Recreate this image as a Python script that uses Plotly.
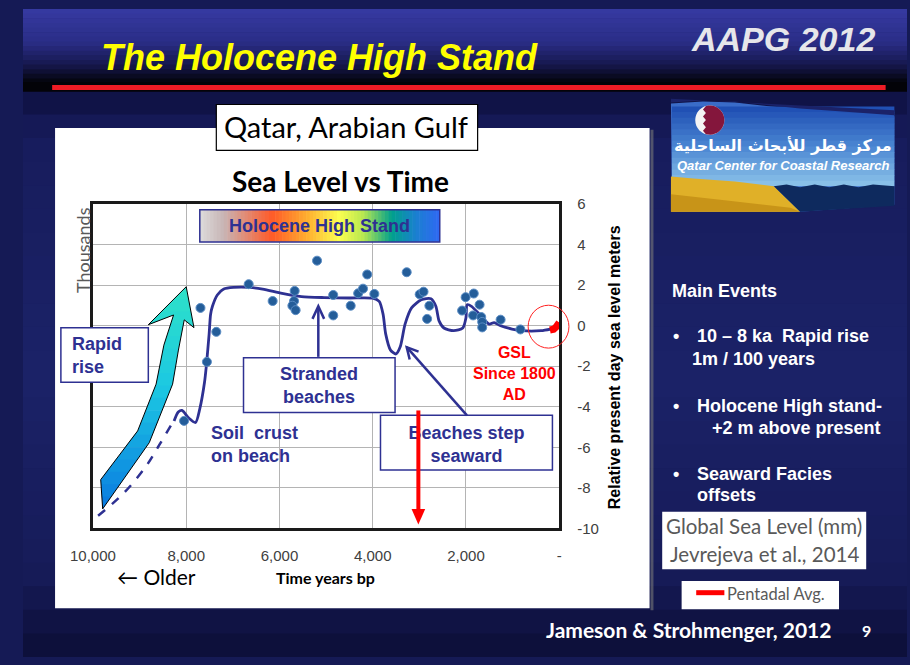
import math
import plotly.graph_objects as go

W, H = 910, 665

# ---------------- data ----------------
obs_age = [8046, 7694, 7556, 7354, 6660, 6146, 5674, 5687, 5723, 5653, 5194, 4847, 4847, 4472, 4312,
           4208, 4118, 3965, 3271, 2993, 2910, 2785, 2833, 2083, 2007, 1833, 1708, 1847, 1673, 1652,
           1652, 1257, 833]
obs_level = [-4.7, 0.87, -1.79, -0.31, 2.04, 1.21, 1.71, 1.21, 0.98, 0.76, 3.2, 1.51, 0.5, 0.98, 1.59,
             1.82, 2.52, 1.56, 2.63, 1.54, 1.67, 0.98, 0.33, 0.74, 1.40, 1.58, 1.03, 0.5, 0.42, 0.18,
             -0.09, 0.29, -0.19]

fit_age = [8260, 8170, 8090, 7950, 7800, 7708, 7608, 7569, 7508, 7477, 7437, 7333, 7194, 6986, 6639,
           6361, 5944, 5528, 5042, 4500, 4000, 3861, 3777, 3722, 3618, 3500, 3410, 3306, 3167, 2958,
           2750, 2646, 2577, 2473, 2265, 2069, 2000, 1973, 1881, 1708, 1500, 1396, 1257, 1014, 806,
           389, 181]
fit_level = [-4.70, -4.26, -4.18, -4.55, -4.78, -4.10, -2.81, -2.01, -0.41, 0.55, 0.95, 1.51, 1.80, 1.88, 1.88,
             1.80, 1.59, 1.43, 1.38, 1.36, 1.35, 1.19, 0.55, -0.41, -1.21, -1.40, -1.05, 0.07, 0.87, 1.27,
             1.32, 0.95, 0.23, -0.12, -0.25, -0.12, 0.39, 1.03, 0.95, 0.55, 0.07, 0.15, -0.01, -0.17, -0.25,
             -0.25, -0.17]

trend_age = [9890, 9340, 8875, 8570, 8300]
trend_level = [-9.38, -8.26, -6.98, -5.86, -4.82]

gsl_age = [200, 120, 60, 0]
gsl_level = [-0.22, -0.18, -0.05, 0.15]

x_tickvals = [10000, 8000, 6000, 4000, 2000, 0]
x_ticktext = ["10,000", "8,000", "6,000", "4,000", "2,000", "-"]
y_tickvals = [6, 4, 2, 0, -2, -4, -6, -8, -10]
y_ticktext = ["6", "4", "2", "0", "-2", "-4", "-6", "-8", "-10"]

# ---------------- helpers (pixel -> paper) ----------------
def X(px):
    return px / W


def Y(py):
    return 1 - py / H


ARIAL = "Liberation Sans, Arial, sans-serif"
CAL = "Lato, Open Sans, sans-serif"
NAVY = "#2e3192"

shapes = []
annots = []


def hexrgb(h):
    h = h.lstrip('#')
    return tuple(int(h[i:i + 2], 16) for i in (0, 2, 4))


def interp(stops, t):
    for i in range(len(stops) - 1):
        t0, c0 = stops[i]
        t1, c1 = stops[i + 1]
        if t <= t1:
            f = 0 if t1 == t0 else (t - t0) / (t1 - t0)
            a, b = hexrgb(c0), hexrgb(c1)
            return "rgb(%d,%d,%d)" % tuple(round(a[k] + f * (b[k] - a[k])) for k in range(3))
    return stops[-1][1]


def rect(x0, y0, x1, y1, fill, line=None, lw=0, layer='above', **kw):
    d = dict(type='rect', xref='paper', yref='paper', x0=X(x0), x1=X(x1), y0=Y(y1), y1=Y(y0),
             fillcolor=fill, layer=layer,
             line=dict(color=line if line else 'rgba(0,0,0,0)', width=lw))
    d.update(kw)
    shapes.append(d)


def vgrad(x0, y0, x1, y1, stops, n, layer='below'):
    h = (y1 - y0) / n
    for i in range(n):
        t = (i + 0.5) / n
        rect(x0, y0 + i * h, x1, min(y1, y0 + (i + 1) * h + 0.6), interp(stops, t), layer=layer)


def hgrad(x0, y0, x1, y1, stops, n, layer='above'):
    w = (x1 - x0) / n
    for i in range(n):
        t = (i + 0.5) / n
        rect(x0 + i * w, y0, min(x1, x0 + (i + 1) * w + 0.6), y1, interp(stops, t), layer=layer)


def pathstr(pts, close=True):
    s = "M " + " L ".join("%.5f,%.5f" % (X(x), Y(y)) for x, y in pts)
    return s + (" Z" if close else "")


def poly(pts, fill, line=None, lw=0, layer='above', close=True):
    shapes.append(dict(type='path', xref='paper', yref='paper', path=pathstr(pts, close),
                       fillcolor=fill if close else None, layer=layer,
                       line=dict(color=line if line else 'rgba(0,0,0,0)', width=lw)))


def seg(x0, y0, x1, y1, color, width, layer='above'):
    shapes.append(dict(type='line', xref='paper', yref='paper', x0=X(x0), y0=Y(y0), x1=X(x1), y1=Y(y1),
                       line=dict(color=color, width=width), layer=layer))


def ann(x, y, text, size, color, family=ARIAL, xanchor='center', yanchor='middle', align='center', angle=0):
    annots.append(dict(x=X(x), y=Y(y), xref='paper', yref='paper', text=text, showarrow=False,
                       font=dict(size=size, color=color, family=family), xanchor=xanchor,
                       yanchor=yanchor, align=align, textangle=angle))


def clip_band(pts, ylo, yhi):
    def clip(p, keep, yc):
        out = []
        for i in range(len(p)):
            cur, prev = p[i], p[i - 1]

            def inter(a, b):
                t = (yc - a[1]) / (b[1] - a[1])
                return (a[0] + t * (b[0] - a[0]), yc)
            if keep(cur):
                if not keep(prev):
                    out.append(inter(prev, cur))
                out.append(cur)
            elif keep(prev):
                out.append(inter(prev, cur))
        return out
    p = clip(pts, lambda q: q[1] >= ylo, ylo)
    if len(p) < 3:
        return []
    p = clip(p, lambda q: q[1] <= yhi, yhi)
    return p if len(p) >= 3 else []


# ---------------- slide background ----------------
vgrad(0, 84, W, H, [(0, '#0d1040'), (0.08, '#171c5c'), (0.5, '#1b2268'), (0.85, '#161b58'), (1, '#0b0e36')], 24)
vgrad(0, 0, W, 76, [(0, '#363aa2'), (0.45, '#2a2d86'), (0.75, '#16184e'), (1, '#030308')], 16)
rect(0, 75, W, 85, '#030308', layer='below')
rect(30, 78, 888, 83, '#ee1c25', layer='below')

# white chart panel
rect(646, 124, 649, 617, 'rgba(120,120,120,0.6)', layer='below')
rect(33, 122, 645, 615, 'white', layer='below')

# ---------------- chart decorations ----------------
rect(199, 98, 468, 145, 'white', line='black', lw=1.2)
ann(333, 121, "Qatar, Arabian Gulf", 29, 'black', family=CAL)
ann(327, 177, "<b>Sea Level vs Time</b>", 28, 'black', family=CAL)
ann(61, 247, "Thousands", 18, '#595959', family=CAL, angle=-90)

# Holocene High Stand gradient box
hgrad(182, 206, 429, 239, [(0, '#dcdcdc'), (0.1, '#c8b4b4'), (0.3, '#ff5a28'), (0.45, '#ffb030'),
                            (0.58, '#fcff50'), (0.68, '#b8e850'), (0.8, '#00a08c'), (0.9, '#1a80d0'),
                            (1, '#3068f4')], 70)
rect(182, 206, 429, 239, 'rgba(0,0,0,0)', line=NAVY, lw=1.5)
ann(305, 223, "<b>Holocene High Stand</b>", 18, NAVY)

# Rapid rise box
rect(39, 327, 129, 383, 'white', line=NAVY, lw=1.5)
ann(48, 356, "<b>Rapid<br>rise</b>", 18, NAVY, xanchor='left', align='left')

# cyan block arrow with vertical gradient
arrow_pts = [(168, 285), (176, 327), (166, 319), (160, 350), (154, 385), (130, 445), (82, 513),
             (80, 483), (118, 433), (137, 385), (145, 345), (155, 314), (129, 324)]
astops = [(0, '#2ee2c8'), (0.45, '#1cc8e2'), (1, '#0a7ae0')]
nb = 18
ytop, ybot = 285, 513
for i in range(nb):
    ylo = ytop + i * (ybot - ytop) / nb
    yhi = ytop + (i + 1) * (ybot - ytop) / nb + 0.7
    band = clip_band(arrow_pts, ylo, yhi)
    if band:
        poly(band, interp(astops, (i + 0.5) / nb))
poly(arrow_pts, 'rgba(0,0,0,0)', line='black', lw=1)

# Stranded beaches box and arrow
rect(227, 358, 383, 414, 'white', line=NAVY, lw=1.5)
ann(305, 386, "<b>Stranded<br>beaches</b>", 18, NAVY)
seg(304, 357, 304, 306, NAVY, 2.5)
poly([(298, 318), (304, 305), (310, 318)], None, line=NAVY, lw=2.5, close=False)

# Beaches step seaward box (label inside shape so the red arrow overlays it)
shapes.append(dict(type='rect', xref='paper', yref='paper', x0=X(368), x1=X(545), y0=Y(473), y1=Y(417),
                   fillcolor='white', line=dict(color=NAVY, width=1.5), layer='above',
                   label=dict(text="<b>Beaches step<br>seaward</b>",
                              font=dict(size=18, color=NAVY, family=ARIAL),
                              textposition='middle center')))
tx, ty, sx, sy = 395, 347, 457, 417
dx, dy = sx - tx, sy - ty
L = math.hypot(dx, dy)
ux, uy = dx / L, dy / L
seg(sx, sy, tx, ty, NAVY, 2.5)
a = math.radians(28)
arm = 13
p1 = (tx + arm * (ux * math.cos(a) - uy * math.sin(a)), ty + arm * (ux * math.sin(a) + uy * math.cos(a)))
p2 = (tx + arm * (ux * math.cos(-a) - uy * math.sin(-a)), ty + arm * (ux * math.sin(-a) + uy * math.cos(-a)))
poly([p1, (tx, ty), p2], None, line=NAVY, lw=2.5, close=False)

# red vertical arrow
seg(407, 412, 407, 515, '#ff0000', 4)
poly([(400, 513), (414, 513), (407, 529)], '#ff0000')

ann(191, 447, "<b>Soil  crust<br>on beach</b>", 18, NAVY, xanchor='left', align='left')

ann(506, 374, "<b>GSL<br>Since 1800<br>AD</b>", 16, '#ff0000')
shapes.append(dict(type='circle', xref='paper', yref='paper', x0=X(520), x1=X(562), y0=Y(348), y1=Y(304),
                   line=dict(color='#ff2020', width=1), fillcolor='rgba(0,0,0,0)', layer='above'))

ann(609, 368, "<b>Relative present day sea level meters</b>", 16, 'black', angle=-90)
ann(311, 583, "<b>Time years bp</b>", 16, 'black', family=CAL)
ann(137, 582, "\u2190 Older", 21, 'black', family=CAL)

# ---------------- title ----------------
ann(305, 50, "<b><i>The Holocene High Stand</i></b>", 36, '#ffff00')
ann(782, 31, "<b><i>AAPG 2012</i></b>", 34, '#e6e6ea')

# ---------------- logo ----------------
poly([(667, 97), (700, 95), (733, 96), (770, 100), (800, 103), (840, 106), (897, 110),
      (897, 201), (800, 208), (668, 208)], '#3a6cc8')
vgrad(668, 100, 897, 182, [(0, '#1d4cb2'), (0.5, '#4a86d2'), (1, '#8ec4ea')], 14, layer='above')
poly([(667, 96), (700, 94), (733, 95), (770, 99), (800, 102), (840, 105), (897, 109), (897, 104),
      (667, 92)], '#1b2268')
poly([(667, 172), (690, 174), (733, 177), (773, 182), (800, 208), (667, 208)], '#e0b028')
poly([(667, 190), (720, 196), (790, 204), (800, 208), (667, 208)], '#c89418')
poly([(773, 182), (786, 180), (800, 183), (815, 180), (830, 183), (845, 180), (860, 183), (875, 180),
      (897, 182), (897, 202), (800, 208)], '#0e2a5e')
cx, cy, r = 707, 114, 15
shapes.append(dict(type='circle', xref='paper', yref='paper', x0=X(cx - r), x1=X(cx + r), y0=Y(cy + r),
                   y1=Y(cy - r), fillcolor='#f4f4f4', line=dict(color='rgba(0,0,0,0)', width=0), layer='above'))
th = math.degrees(math.acos(-4 / r))
arc = []
steps = 24
for k in range(steps + 1):
    ang = math.radians(-th + k * (2 * th) / steps)
    arc.append((cx + r * math.cos(ang), cy + r * math.sin(ang)))
zig = []
yb, yt = arc[-1][1], arc[0][1]
nz = 8
for k in range(nz + 1):
    yy = yb - k * (yb - yt) / nz
    zig.append((cx - 4 - (3 if k % 2 else 0), yy))
poly(arc + zig, '#84163c')
ann(782, 140, "<b>مركز قطر للأبحاث الساحلية</b>", 16, 'white', family="DejaVu Sans")
ann(782, 161, "<b><i>Qatar Center for Coastal Research</i></b>", 13, 'white', family=ARIAL)

# ---------------- right text ----------------
ann(666, 289, "<b>Main Events</b>", 18, 'white', xanchor='left')
for yb_, txt in [(336, "10 \u2013 8 ka  Rapid rise"), (407, "Holocene High stand-"), (477, "Seaward Facies")]:
    ann(667, yb_, "<b>\u2022</b>", 18, 'white', xanchor='left')
    ann(692, yb_, "<b>%s</b>" % txt, 18, 'white', xanchor='left')
ann(687, 359, "<b>1m / 100 years</b>", 18, 'white', xanchor='left')
ann(707, 430, "<b>+2 m above present</b>", 18, 'white', xanchor='left')
ann(692, 499, "<b>offsets</b>", 18, 'white', xanchor='left')

rect(658, 516, 868, 575, 'white')
ann(763, 531, "Global Sea Level (mm)", 20.5, '#595959', family=CAL)
ann(763, 559, "Jevrejeva et al., 2014", 20.5, '#595959', family=CAL)
rect(678, 587, 840, 616, 'white')
seg(693, 599, 722, 599, '#ff0000', 5)
ann(723, 600, "Pentadal Avg.", 16.5, '#595959', family=CAL, xanchor='left')

ann(685, 637, "<b>Jameson &amp; Strohmenger, 2012</b>", 21, 'white', family=CAL)
ann(868, 638, "<b>9</b>", 16, 'white', family=CAL)

# ---------------- figure ----------------
fig = go.Figure()
fig.add_trace(go.Scatter(x=trend_age, y=trend_level, mode='lines',
                         line=dict(color=NAVY, width=2.5, dash='dash', shape='spline'), hoverinfo='skip'))
fig.add_trace(go.Scatter(x=fit_age, y=fit_level, mode='lines',
                         line=dict(color=NAVY, width=2.8, shape='spline', smoothing=0.7)))
fig.add_trace(go.Scatter(x=obs_age, y=obs_level, mode='markers',
                         marker=dict(size=9, color='#245d99', line=dict(color='#5a8cc4', width=1))))
fig.add_trace(go.Scatter(x=gsl_age, y=gsl_level, mode='lines', line=dict(color='#ff0000', width=7)))

axis_common = dict(showgrid=True, gridcolor='#b4b4b4', gridwidth=1, showline=True, linecolor='#1a1a1a',
                   linewidth=3, mirror=True, ticks='', zeroline=False,
                   tickfont=dict(size=15, color='#404040', family=ARIAL))

fig.update_layout(
    width=W, height=H, margin=dict(l=0, r=0, t=0, b=0), autosize=False,
    paper_bgcolor='#151a55', plot_bgcolor='rgba(0,0,0,0)', showlegend=False,
    xaxis=dict(domain=[X(72), X(552)], range=[10000, 0], tickmode='array', tickvals=x_tickvals,
               ticktext=x_ticktext, ticklabelstandoff=12, **axis_common),
    yaxis=dict(domain=[Y(533), Y(200)], range=[-10, 6], side='right', tickmode='array',
               tickvals=y_tickvals, ticktext=y_ticktext, ticklabelstandoff=12, **axis_common),
    shapes=shapes, annotations=annots,
)

fig.write_html("out.html")
